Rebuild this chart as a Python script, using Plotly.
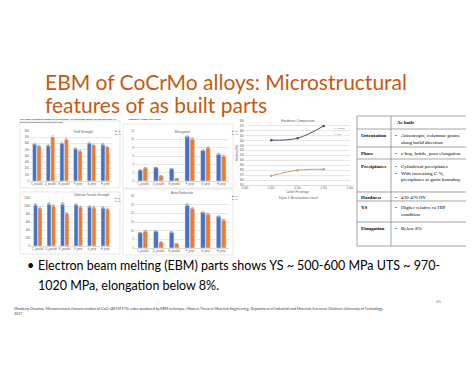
import plotly.graph_objects as go

W, H = 474, 366


def fx(x):
    return x / W


def fy(y):
    return 1 - y / H


# ---------------- data ----------------
categories = ["C_parallel", "D_parallel", "E_parallel", "F_perp", "G_perp", "H_perp"]
series_names = ["As built", "HIP"]

ys_a = [584, 560, 600, 512, 600, 576]
ys_b = [552, 696, 656, 472, 568, 536]
uts_a = [1020, 1044, 1044, 1026, 972, 948]
uts_b = [936, 996, 804, 960, 948, 912]
el_a = [2.6, 3.2, 2.9, 10.6, 7.3, 6.4]
el_b = [3.1, 1.2, 0.6, 10.0, 7.9, 5.9]
ra_a = [8.7, 9.6, 9.0, 24.6, 20.4, 18.0]
ra_b = [9.6, 3.3, 2.4, 22.5, 19.4, 16.0]

carbon = [0.05, 0.10, 0.15]
hv_asbuilt = [441, 445, 470]
hv_hip = [369, 380, 382]
carbon_ticks = [0.0, 0.05, 0.10, 0.15, 0.20]

BLUE = "#4472C4"
ORANGE = "#ED7D31"
TITLE_C = "#C55A11"

fig = go.Figure()

panels = [
    ("Yield Strength", ys_a, ys_b, "", (22, 104), (123, 173), [0, 800], 100, ".0f"),
    ("Ultimate Tensile Strength", uts_a, uts_b, "2", (23, 104), (190, 238), [0, 1200], 200, ".0f"),
    ("Elongation", el_a, el_b, "3", (127, 221), (123, 173), [0, 12], 2, ".1f"),
    ("Area Reduction", ra_a, ra_b, "4", (127, 221), (188, 240), [0, 30], 5, ".1f"),
]

tiny = dict(family="Liberation Sans", size=2.6, color="#595959")
vtiny = dict(family="Liberation Sans", size=2.0, color="#595959")

for title, a, b, suf, xr, yr, rng, dt, fmt in panels:
    xa = "x" + suf
    ya = "y" + suf
    for vals, col, nm in ((a, BLUE, series_names[0]), (b, ORANGE, series_names[1])):
        fig.add_trace(go.Bar(
            x=categories, y=vals, name=nm, marker_color=col,
            xaxis=xa, yaxis=ya, showlegend=False,
            text=[f"{v:{fmt}}" for v in vals], textposition="outside",
            textfont=vtiny, cliponaxis=False,
            error_y=dict(type="percent", value=4, thickness=0.5, width=1, color="#888888"),
        ))
    fig.layout["xaxis" + suf] = dict(
        domain=[fx(xr[0]), fx(xr[1])], anchor=ya,
        tickfont=tiny, showgrid=False, showline=True, linecolor="#D9D9D9",
        linewidth=0.5, ticks="", tickangle=0, fixedrange=True, automargin=False,
    )
    fig.layout["yaxis" + suf] = dict(
        domain=[fy(yr[1]), fy(yr[0])], anchor=xa, range=rng, dtick=dt,
        tickfont=tiny, showgrid=True, gridcolor="#E7E7E7", gridwidth=0.5,
        zeroline=False, showline=False, ticks="", fixedrange=True, automargin=False,
    )
    fig.add_annotation(x=(fx(xr[0]) + fx(xr[1])) / 2, y=fy(yr[0] - 3), xref="paper", yref="paper",
                       text=title, showarrow=False, font=dict(family="Liberation Sans", size=3.2, color="#595959"))
    fig.add_annotation(x=fx(xr[1] + 1), y=fy(yr[0] + 2), xref="paper", yref="paper", xanchor="left",
                       text=f"<span style='color:{BLUE}'>■</span> AB<br><span style='color:{ORANGE}'>■</span> HIP",
                       showarrow=False, align="left", font=dict(family="Liberation Sans", size=2.4, color="#595959"))

fig.update_layout(barmode="group", bargap=0.35, bargroupgap=0.08)

# hardness line chart
fig.add_trace(go.Scatter(x=carbon, y=hv_asbuilt, mode="lines+markers", name="As built",
                         line=dict(color="#44546A", width=1, shape="spline"), marker=dict(size=2.5, color="#44546A"),
                         xaxis="x5", yaxis="y5", showlegend=False))
fig.add_trace(go.Scatter(x=carbon, y=hv_hip, mode="lines+markers", name="HIP",
                         line=dict(color="#C9A16E", width=1, shape="spline"), marker=dict(size=2.5, color="#C9A16E"),
                         xaxis="x5", yaxis="y5", showlegend=False))
fig.layout["xaxis5"] = dict(domain=[fx(237), fx(342)], anchor="y5", range=[0, 0.2],
                            tickvals=carbon_ticks, tickformat=".3f", tickfont=tiny,
                            showgrid=False, showline=True, linecolor="#D9D9D9", linewidth=0.5,
                            ticks="", zeroline=False, fixedrange=True, automargin=False,
                            title=dict(text="Carbon Percentage", font=tiny, standoff=1))
fig.layout["yaxis5"] = dict(domain=[fy(177), fy(113)], anchor="x5", range=[350, 480], dtick=10,
                            tickfont=tiny, showgrid=True, gridcolor="#E7E7E7", gridwidth=0.5,
                            zeroline=False, ticks="", fixedrange=True, automargin=False,
                            title=dict(text="Hardness(HV)", font=tiny, standoff=1))
fig.add_annotation(x=fx(290), y=fy(109), xref="paper", yref="paper", text="Hardness Comparison",
                   showarrow=False, font=dict(family="Liberation Sans", size=3.4, color="#595959"))
fig.add_annotation(x=fx(323), y=fy(117), xref="paper", yref="paper", xanchor="left",
                   text="<span style='color:#44546A'>—•</span> As built<br><br><span style='color:#C9A16E'>—•</span> HIP",
                   showarrow=False, align="left", font=dict(family="Liberation Sans", size=2.4, color="#595959"))
fig.add_annotation(x=fx(290), y=fy(190), xref="paper", yref="paper", text="Figure 3: Micro-hardness result",
                   showarrow=False, font=dict(family="Liberation Sans", size=2.8, color="#595959"))

# panel frames
frames = [(12, 113, 112, 180), (12, 184, 112, 246), (115, 116, 225, 180), (115, 181, 225, 247)]
shapes = []
for x0, y0, x1, y1 in frames:
    shapes.append(dict(type="rect", xref="paper", yref="paper", x0=fx(x0), x1=fx(x1), y0=fy(y1), y1=fy(y0),
                       line=dict(color="#D9D9D9", width=0.6), layer="below"))

# captions over the charts
fig.add_annotation(x=fx(10), y=fy(108), xref="paper", yref="paper", xanchor="left",
                   text="<b>The tensile test was performed for 3 directions - C-E directions parallel to build direction; F-H</b><br>"
                        "<b>direction perpendicular to build direction</b>",
                   showarrow=False, align="left", font=dict(family="Liberation Sans", size=2.2, color="#404040"))
fig.add_annotation(x=fx(118), y=fy(108), xref="paper", yref="paper", xanchor="left",
                   text="<b>Appendix 2: Tensile test results</b>",
                   showarrow=False, align="left", font=dict(family="Liberation Sans", size=2.2, color="#404040"))

# ---------------- title ----------------
fig.add_annotation(x=fx(36), y=fy(73.5), xref="paper", yref="paper", xanchor="left", yanchor="middle",
                   text="EBM of CoCrMo alloys: Microstructural", showarrow=False, borderpad=0,
                   font=dict(family="Lato", size=21, color=TITLE_C))
fig.add_annotation(x=fx(36), y=fy(96.5), xref="paper", yref="paper", xanchor="left", yanchor="middle",
                   text="features of as built parts", showarrow=False, borderpad=0,
                   font=dict(family="Lato", size=21, color=TITLE_C))

# ---------------- table ----------------
tx0, tx1, tdiv = 349, 466, 383
rows_y = [108, 121, 139, 151, 184, 193, 214, 238]
for yy in rows_y:
    shapes.append(dict(type="line", xref="paper", yref="paper", x0=fx(tx0), x1=fx(tx1), y0=fy(yy), y1=fy(yy),
                       line=dict(color="#7F7F7F", width=0.7)))
for xx in (tx0, tdiv, tx1):
    shapes.append(dict(type="line", xref="paper", yref="paper", x0=fx(xx), x1=fx(xx), y0=fy(108), y1=fy(238),
                       line=dict(color="#7F7F7F", width=0.7)))

tfont = dict(family="Liberation Serif", size=5, color="#000000")
fig.add_annotation(x=fx(387), y=fy(114), xref="paper", yref="paper", xanchor="left", yanchor="middle",
                   text="<b>As built</b>", showarrow=False, font=tfont)
row_labels = ["Orientation", "Phase", "Precipitates", "Hardness", "YS", "Elongation"]
row_label_y = [127, 145, 158, 189, 199, 220]
row_bullets = ["•", "•", "•<br>•", "•", "•", "•"]
row_texts = [
    "Anisotropic, columnar grains<br>along build direction",
    "ε-hcp, brittle, poor elongation",
    "Cylindrical precipitates<br>With increasing C %,<br>precipitates at grain boundary",
    "430-470 HV",
    "Higher relative to HIP<br>condition",
    "Below 8%",
]
for lab, ly, bul, txt in zip(row_labels, row_label_y, row_bullets, row_texts):
    fig.add_annotation(x=fx(351), y=fy(ly), xref="paper", yref="paper", xanchor="left", yanchor="middle",
                       text=f"<b>{lab}</b>", showarrow=False, font=tfont)
    fig.add_annotation(x=fx(385), y=fy(ly - 4), xref="paper", yref="paper", xanchor="left", yanchor="top",
                       text=bul, showarrow=False, align="left", font=tfont)
    fig.add_annotation(x=fx(391), y=fy(ly - 4), xref="paper", yref="paper", xanchor="left", yanchor="top",
                       text=txt, showarrow=False, align="left", font=tfont)

# ---------------- bullet text ----------------
bfont = dict(family="Lato", size=12.5, color="#000000")
fig.add_annotation(x=fx(17), y=fy(257), xref="paper", yref="paper", xanchor="left", yanchor="middle",
                   text="•", showarrow=False, font=bfont)
fig.add_annotation(x=fx(28), y=fy(257), xref="paper", yref="paper", xanchor="left", yanchor="middle",
                   text="Electron beam melting (EBM) parts shows YS ~ 500-600 MPa UTS ~ 970-",
                   showarrow=False, font=bfont)
fig.add_annotation(x=fx(28), y=fy(277), xref="paper", yref="paper", xanchor="left", yanchor="middle",
                   text="1020 MPa, elongation below 8%.", showarrow=False, font=bfont)

# footer
fig.add_annotation(x=fx(4), y=fy(303), xref="paper", yref="paper", xanchor="left", yanchor="middle",
                   text="Mandeep Chauhan, Microstructural characterization of CoCr (ASTM F75) cubes produced by EBM technique, "
                        "Masters Thesis in Materials Engineering, Department of Industrial and Materials Sciencem Chalmers University of Technology,<br>2017",
                   showarrow=False, align="left", font=dict(family="Lato", size=3.6, color="#404040"))
fig.add_annotation(x=fx(436), y=fy(298), xref="paper", yref="paper", text="45", showarrow=False,
                   font=dict(family="Lato", size=4.5, color="#8C8C8C"))

fig.update_layout(width=W, height=H, margin=dict(l=0, r=0, t=0, b=0),
                  paper_bgcolor="white", plot_bgcolor="white", shapes=shapes,
                  font=dict(family="Liberation Sans"))

fig.write_html("out.html", config={"displayModeBar": False})
